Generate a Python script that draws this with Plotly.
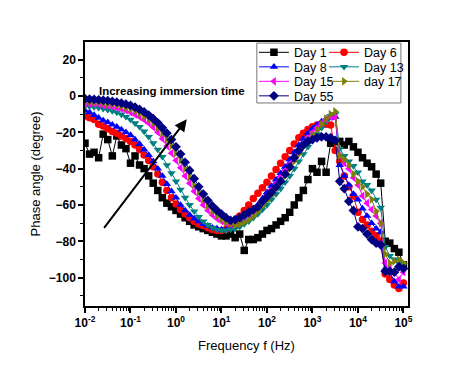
import plotly.graph_objects as go

# log10 of frequency (Hz), 10 points per decade from 1e-2 to 1e5
log_freq = [round(-2 + 0.1 * i, 1) for i in range(71)]
freq = [10 ** v for v in log_freq]

day1 = [-26, -32, -31, -34, -21, -24, -33, -22, -27, -29,
        -37, -33, -38, -40, -44, -48, -52, -56, -59, -61,
        -63, -65, -67, -69, -71, -72, -73, -74, -75, -76,
        -77, -77, -76, -78, -76, -85, -79, -79, -78, -76,
        -74, -73, -71, -69, -67, -64, -60, -56, -52, -46,
        -40, -42, -36, -42, -26, -25, -25, -27, -25, -28,
        -31, -34, -37, -39, -43, -48, -80, -81, -84, -86,
        -93]
day6 = [-11, -12, -13, -15.5, -16.5, -18, -19.5, -20.5, -22, -23.5,
        -25, -27, -29.5, -32.5, -35.5, -39, -43, -47.5, -52, -56,
        -59.5, -62.5, -65, -67, -69, -70.5, -71.5, -72.5, -73.5, -74,
        -74, -73.5, -72, -69.5, -66, -63, -60, -56.5, -53.5, -50.5,
        -47.5, -44, -40.5, -37, -33.5, -30, -26.5, -23, -20.5, -18.5,
        -17, -16, -15.5, -15.5, -16, -30, -36, -44, -50, -55,
        -64, -68, -71, -74.5, -77, -80, -98, -101, -104, -106,
        -103]
day8 = [-8, -9, -10.5, -12, -13.5, -14.5, -15.8, -17, -18.5, -20,
        -21.5, -24, -26.5, -29.5, -32.5, -36, -40, -44, -48.5, -52.5,
        -56, -60, -63, -65.5, -67.5, -69, -70.5, -71.5, -72.5, -73,
        -73.5, -73.5, -73, -72, -70.5, -68.5, -66, -63, -60, -56.5,
        -53, -49.5, -46, -42.5, -39, -35, -31, -27, -23.5, -20.5,
        -18, -16, -14, -12.5, -12, -11.5, -38, -44, -49, -54,
        -57, -62, -66, -70, -73, -75, -95, -97, -102, -105,
        -105]
day13 = [-5.5, -5.8, -6.1, -6.5, -7, -7.6, -8.3, -9.1, -10.2, -11.5,
         -13, -15, -17, -19.5, -22.5, -26, -29.5, -33.5, -38, -42.5,
         -47, -51.5, -56, -60, -63.5, -66.5, -69, -71, -72.5, -73.5,
         -74, -74, -73.5, -73, -72, -70.5, -69, -67, -65, -62.5,
         -60, -57, -54, -51, -47.5, -44, -40, -36, -32, -28,
         -24.5, -21, -17.5, -14, -11, -10, -29, -33, -36, -38.5,
         -42, -47, -49, -52, -57, -61.5, -83, -88, -90, -92,
         -93]
day15 = [-4, -4.2, -4.4, -4.7, -5, -5.4, -5.9, -6.5, -7.2, -8,
         -9, -10.2, -11.6, -13.2, -15, -17.2, -20, -23.5, -27.5, -31.5,
         -35.5, -39.5, -44, -48, -52.5, -56.5, -60, -63, -65.5, -67.5,
         -69, -70, -70.5, -70, -69, -67.5, -65.5, -63, -60.5, -57.5,
         -54.5, -51.5, -48, -44.5, -41, -37.5, -33.5, -30, -26.5, -23,
         -20, -17.5, -15, -13, -11.5, -12, -33, -37, -40, -45,
         -49, -55, -59, -62.5, -66, -70, -92, -95, -97, -101,
         -97]
day17 = [-3, -3.2, -3.4, -3.6, -3.9, -4.2, -4.6, -5.1, -5.7, -6.4,
         -7.3, -8.4, -9.7, -11.2, -13, -15, -17.5, -20.5, -24, -27.5,
         -31.5, -35.5, -40, -44.5, -49, -53, -57, -60.5, -63.5, -66,
         -68, -69.5, -70.5, -71, -70.5, -69.5, -68, -66, -63.5, -60.5,
         -57.5, -54.5, -51, -47.5, -44, -40, -36, -32, -28, -24.5,
         -21.5, -18.5, -15.5, -12.5, -10, -8.5, -33, -35, -38, -43,
         -47, -50, -54, -57, -63.5, -70, -87, -92, -91, -90,
         -92]
day55 = [-1.5, -1.7, -1.9, -2.1, -2.3, -2.6, -3, -3.4, -3.9, -4.5,
         -5.2, -6.2, -7.4, -8.8, -10.5, -12.5, -14.8, -17.5, -20.5, -24,
         -28, -32, -36.5, -41, -45.5, -50, -54, -57.5, -60.5, -63,
         -65, -67, -68.5, -68, -67, -65.5, -64, -62.5, -61, -58,
         -55.5, -53, -50, -47, -43, -39, -34, -30, -27, -25,
         -24, -23, -22.5, -22.5, -23, -24.5, -47, -51, -58, -63,
         -72, -73, -76, -79, -81, -82, -96.5, -96.5, -97, -94,
         -95]

series_names = ["Day 1", "Day 6", "Day 8", "Day 13", "Day 15", "day 17", "Day 55"]
series_values = [day1, day6, day8, day13, day15, day17, day55]
series_colors = ["#000000", "#FF0000", "#0000FF", "#008080", "#FF00FF", "#808000", "#000080"]
series_symbols = ["square", "circle", "triangle-up", "triangle-down",
                  "triangle-left", "triangle-right", "diamond"]

x_tick_exps = [-2, -1, 0, 1, 2, 3, 4, 5]
x_tick_text = ["10<sup>%d</sup>" % e for e in x_tick_exps]
y_tick_vals = [-100, -80, -60, -40, -20, 0, 20]

font_family = "Arial, Liberation Sans, sans-serif"
minor_x = [m * 10 ** e for e in range(-2, 5) for m in range(2, 10)]
legend_font = dict(size=12.5, family=font_family, color="black")

# two-column legend box: one small legend per entry (column, row)
legend_cols = [0.523, 0.740]
legend_row_tops = [1.0163, 0.9613, 0.9064, 0.8515]

fig = go.Figure()
legend_layouts = {}
for i, (name, vals, col, sym) in enumerate(zip(series_names, series_values,
                                               series_colors, series_symbols)):
    key = "legend" if i == 0 else "legend%d" % (i + 1)
    legend_layouts[key] = dict(
        x=legend_cols[i % 2], y=legend_row_tops[i // 2], xanchor="left", yanchor="top",
        borderwidth=0, bgcolor="rgba(0,0,0,0)", font=legend_font, itemwidth=30,
    )
    fig.add_trace(go.Scatter(
        x=freq, y=vals, name=name, mode="lines+markers", legend=key,
        line=dict(color=col, width=1),
        marker=dict(symbol=sym, size=7.5, color=col, line=dict(width=0)),
    ))

fig.update_layout(
    width=466, height=358,
    margin=dict(l=77, r=66, t=34, b=60, autoexpand=False),
    paper_bgcolor="white", plot_bgcolor="white",
    font=dict(family=font_family, color="black"),
    showlegend=True,
    xaxis=dict(
        type="log", range=[-2.0, 5.1], automargin=False,
        tickmode="array", tickvals=[10 ** e for e in x_tick_exps], ticktext=x_tick_text,
        ticks="outside", ticklen=5, tickwidth=1.5, tickcolor="black",
        minor=dict(tickmode="array", tickvals=minor_x, ticks="outside", ticklen=3,
                   tickwidth=1, tickcolor="black", showgrid=False),
        showline=True, linecolor="black", linewidth=1.5, mirror=True,
        showgrid=False, zeroline=False,
        tickfont=dict(size=12, family=font_family, weight="bold"),
        title=dict(text="Frequency f (Hz)", font=dict(size=13, family=font_family), standoff=12),
    ),
    yaxis=dict(
        range=[-115.6, 29.7], automargin=False,
        tickmode="array", tickvals=y_tick_vals,
        ticks="outside", ticklen=5, tickwidth=1.5, tickcolor="black",
        minor=dict(dtick=10, ticks="outside", ticklen=3, tickwidth=1,
                   tickcolor="black", showgrid=False),
        showline=True, linecolor="black", linewidth=1.5, mirror=True,
        showgrid=False, zeroline=False,
        tickfont=dict(size=12, family=font_family, weight="bold"),
        title=dict(text="Phase angle (degree)", font=dict(size=13, family=font_family), standoff=5),
    ),
)
fig.update_layout(**legend_layouts)

# legend frame enclosing the legend entries
fig.add_shape(type="rect", xref="paper", yref="paper",
              x0=0.532, x1=0.978, y0=0.769, y1=0.996,
              line=dict(color="#777777", width=1), fillcolor="white", layer="above")

fig.add_annotation(
    x=-1.74, y=3, xref="x", yref="y", xanchor="left", yanchor="middle",
    text="<b>Increasing immersion time</b>", showarrow=False,
    font=dict(size=11.5, family=font_family, color="black"),
)
fig.add_annotation(
    x=0.237, y=-12.8, xref="x", yref="y",
    ax=-1.605, ay=-73.4, axref="x", ayref="y",
    text="", showarrow=True, arrowhead=2, arrowsize=1.2, arrowwidth=2, arrowcolor="black",
)

fig.write_html("out.html")
